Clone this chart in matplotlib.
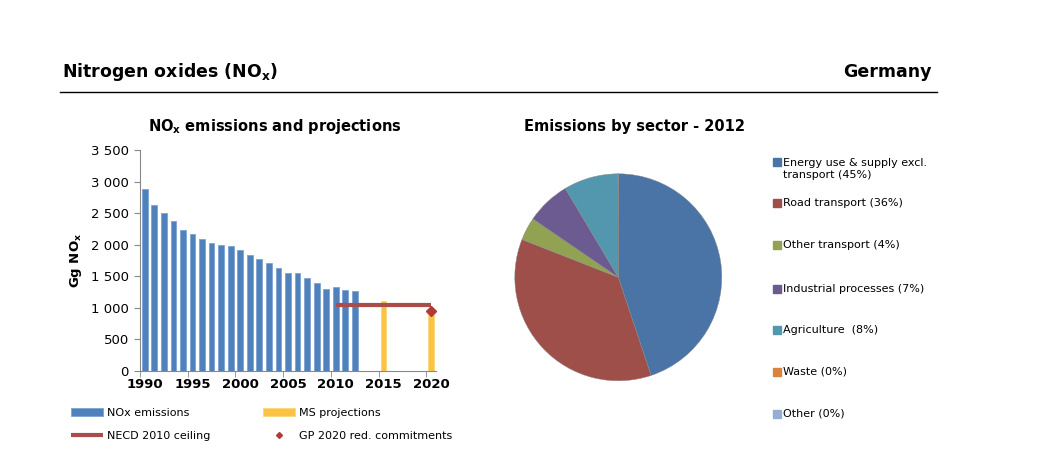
import matplotlib
matplotlib.use("Agg")
import matplotlib.pyplot as plt
from matplotlib.patches import Rectangle
from matplotlib.lines import Line2D
from matplotlib.ticker import FuncFormatter, FixedLocator

plt.rcParams['font.family'] = ['DejaVu Sans']

# ---- data ----
years = list(range(1990, 2021))
emis_years = list(range(1990, 2013))
nox_emissions = [2881, 2628, 2495, 2379, 2231, 2168, 2088, 2035, 1999, 1977,
                 1919, 1840, 1771, 1708, 1634, 1554, 1554, 1480, 1401, 1306,
                 1327, 1285, 1264]
proj_years = [2015, 2020]
ms_projections = [1110, 955]
necd_years = [2010, 2020]
necd_ceiling = 1051
gp_year = 2020
gp_commitment = 952

sectors = ["Energy use & supply excl.\ntransport (45%)", "Road transport (36%)",
           "Other transport (4%)", "Industrial processes (7%)",
           "Agriculture  (8%)", "Waste (0%)", "Other (0%)"]
sector_share = [44.9, 36.1, 3.6, 6.9, 8.5, 0.03, 0.03]
sector_colors = ["#4A74A6", "#9E4F4A", "#91A353", "#6B5B90", "#5397AE", "#D9843E", "#95AED4"]

W, H = 1045, 459
fig = plt.figure(figsize=(W / 100, H / 100), dpi=100)

def fx(px):
    return px / W

def fy(py):
    return 1 - py / H

# header
fig.text(fx(62), fy(72), r"Nitrogen oxides (NO$_\mathbf{x}$)", fontsize=12.5, fontweight='bold',
         va='center', ha='left')
fig.text(fx(932), fy(72), "Germany", fontsize=12.5, fontweight='bold', va='center', ha='right')
fig.add_artist(Line2D([fx(60), fx(937)], [fy(92), fy(92)], color='black', lw=1.0))

# ---- bar chart ----
ax = fig.add_axes([fx(140), fy(371), fx(436) - fx(140), fy(150) - fy(371)])
idx = {y: i for i, y in enumerate(years)}
b_emis = ax.bar([idx[y] for y in emis_years], nox_emissions, width=0.6, color="#4F81BD",
                edgecolor="#7FA3D3", linewidth=0.6)
b_proj = ax.bar([idx[y] for y in proj_years], ms_projections, width=0.62, color="#F9C441",
                edgecolor="#FBD77A", linewidth=0.6)
l_necd, = ax.plot([idx[necd_years[0]], idx[necd_years[1]]], [necd_ceiling, necd_ceiling],
                  color="#A84D4A", lw=3, solid_capstyle='butt')
l_gp, = ax.plot([idx[gp_year]], [gp_commitment], marker='D', color="#B03A36", markersize=5,
                linestyle='none')

ax.set_xlim(-0.5, len(years) - 0.5)
ax.set_ylim(0, 3500)
ax.set_yticks(range(0, 3501, 500))
ax.yaxis.set_major_formatter(FuncFormatter(lambda v, p: f"{int(v):,}".replace(",", " ")))
lab_years = [1990, 1995, 2000, 2005, 2010, 2015, 2020]
ax.set_xticks([idx[y] for y in lab_years])
ax.set_xticklabels([str(y) for y in lab_years], fontweight='bold')
ax.xaxis.set_minor_locator(FixedLocator([idx[y] - 0.5 for y in lab_years]))
ax.tick_params(axis='x', which='major', length=0, pad=5, labelsize=9.5)
ax.tick_params(axis='x', which='minor', length=4, color='#888888')
ax.tick_params(axis='y', length=4, color='#888888', labelsize=9.5, pad=4)
for s in ['top', 'right']:
    ax.spines[s].set_visible(False)
for s in ['left', 'bottom']:
    ax.spines[s].set_color('#888888')
ax.set_ylabel(r"Gg NO$_\mathbf{x}$", fontweight='bold', fontsize=9.5, labelpad=5)
fig.text(fx(275), fy(126), r"NO$_\mathbf{x}$ emissions and projections", fontweight='bold',
         fontsize=10.5, ha='center', va='center')

# bottom legend (two columns as separate legends)
common = dict(loc='upper left', frameon=False, fontsize=8, handlelength=2.9,
              handleheight=0.7, labelspacing=1.2, handletextpad=0.35,
              borderpad=0, borderaxespad=0, markerscale=0.6)
leg1 = fig.legend([b_emis, l_necd], ["NOx emissions", "NECD 2010 ceiling"],
                  bbox_to_anchor=(fx(71), fy(408)), **common)
leg2 = fig.legend([b_proj, l_gp], ["MS projections", "GP 2020 red. commitments"],
                  bbox_to_anchor=(fx(263), fy(408)), **common)

# ---- pie ----
r = 103.5
pax = fig.add_axes([fx(618.3 - r), fy(277.3 + r), fx(2 * r), fy(0) - fy(2 * r)])
pax.pie(sector_share, colors=sector_colors, startangle=90, counterclock=False,
        wedgeprops=dict(linewidth=0.3, edgecolor='#888888'))
pax.set_xlim(-1, 1)
pax.set_ylim(-1, 1)
pax.set_aspect('equal')
pax.axis('off')
fig.text(fx(635), fy(127), "Emissions by sector - 2012", fontsize=10.5, fontweight='bold',
         ha='center', va='center')

# pie legend
leg_y = [168.5, 203, 245, 289, 330, 372, 414]
for lab, col, yy in zip(sectors, sector_colors, leg_y):
    sq_center = 162 if '\n' in lab else yy
    fig.add_artist(Rectangle((fx(773), fy(sq_center + 4)), fx(8), fy(0) - fy(8),
                             color=col, transform=fig.transFigure))
    fig.text(fx(783), fy(yy), lab, fontsize=8, ha='left', va='center', linespacing=1.25)

fig.savefig("out.png", dpi=100)
